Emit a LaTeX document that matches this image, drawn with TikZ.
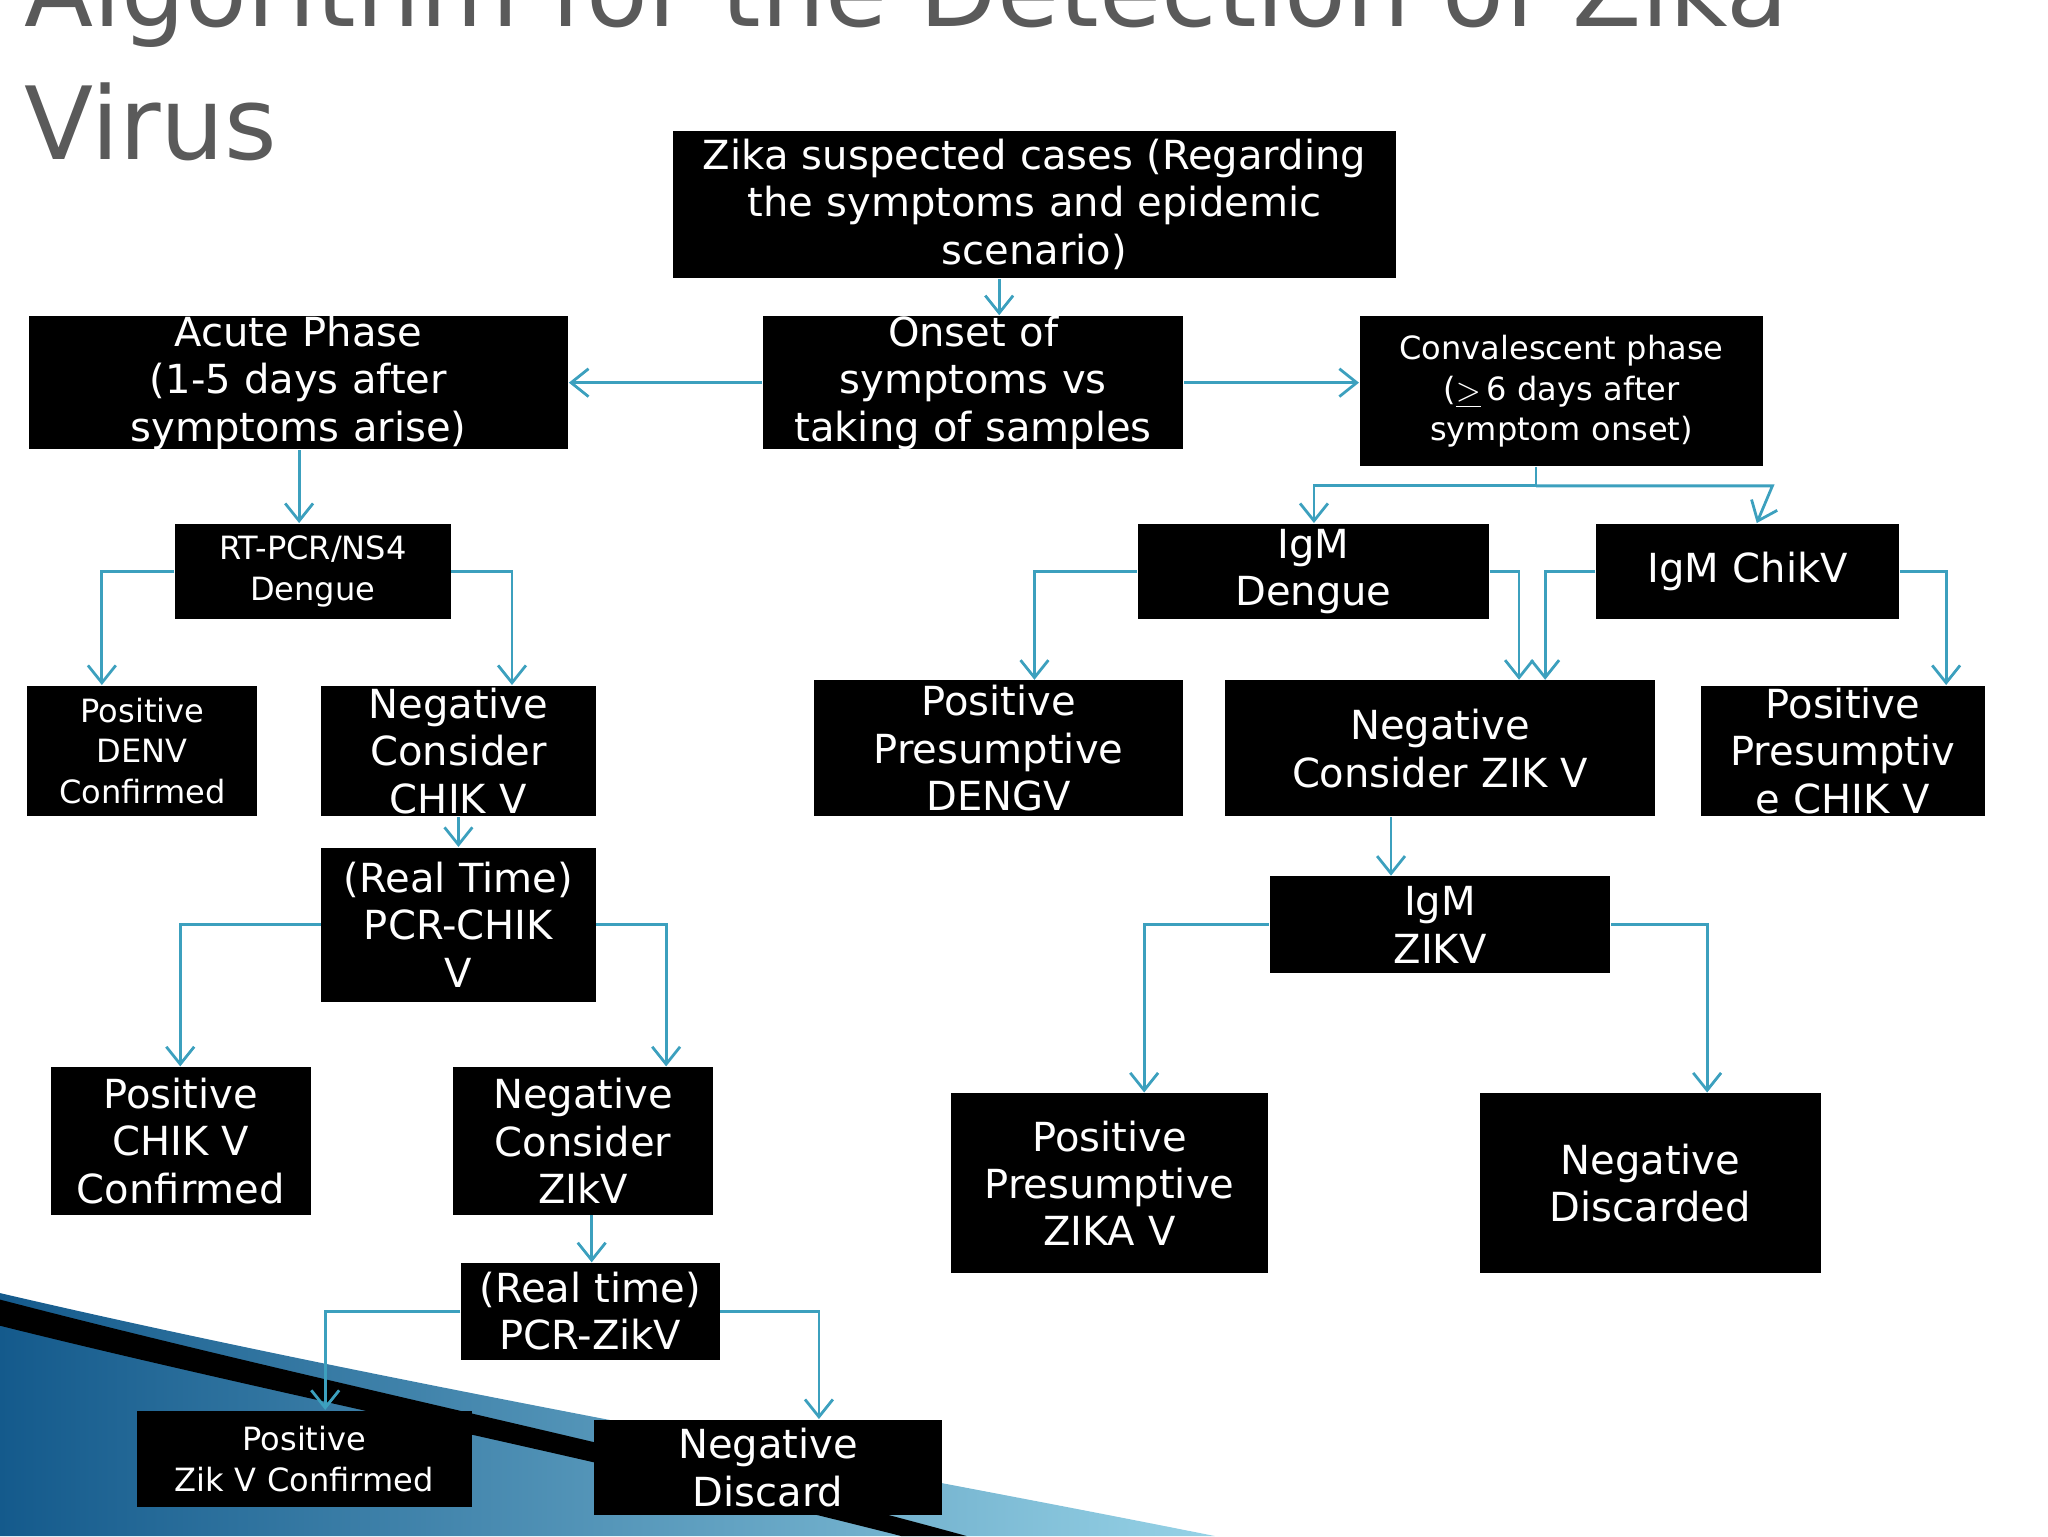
\documentclass[tikz,border=0pt]{standalone}
\usepackage{fontspec}
\setmainfont{DejaVu Sans}
\usetikzlibrary{arrows.meta}
\tikzset{
  box/.style={fill=black,text=white,inner sep=0pt,align=center,font=\fontsize{11.5}{13.6}\selectfont},
  sbox/.style={box,font=\fontsize{9.2}{11.6}\selectfont},
  con/.style={draw={rgb,255:red,60;green,160;blue,190},line width=0.8pt,-{Straight Barb[length=5pt,width=8pt]}},
  ln/.style={draw={rgb,255:red,60;green,160;blue,190},line width=0.8pt},
}
\newcommand\B[7]{\node[#1,minimum width={(#4-#2)*0.375pt},minimum height={(#5-#3)*0.375pt},text width={(#4-#2)*0.375pt-4pt}] (#6) at ({(#2+#4)/2},{(#3+#5)/2}) {#7};}
\begin{document}
\begin{tikzpicture}[x=0.375pt,y=-0.375pt]
\useasboundingbox (0,0) rectangle (1568,1176);
% decoration
\shade[left color={rgb,255:red,20;green,90;blue,140},right color={rgb,255:red,150;green,210;blue,230}] (0,990) .. controls (300,1060) and (650,1120) .. (930,1176) -- (0,1176) -- cycle;
\fill[black] (0,995) .. controls (250,1060) and (500,1110) .. (740,1176) -- (690,1176) .. controls (450,1115) and (200,1065) .. (0,1015) -- cycle;
% title
\node[anchor=base west,text={rgb,255:red,90;green,90;blue,90},font=\fontsize{29}{34}\selectfont,inner sep=0pt] (t1) at (18,20) {Algorithm for the Detection of Zika};
\node[anchor=base west,text={rgb,255:red,90;green,90;blue,90},font=\fontsize{29}{34}\selectfont,inner sep=0pt] (t2) at (18,122) {Virus};
% boxes
\B{box}{515}{100}{1069}{213}{top}{Zika suspected cases (Regarding\\the symptoms and epidemic\\scenario)}
\B{box}{22}{242}{435}{344}{acute}{Acute Phase\\(1-5 days after\\symptoms arise)}
\B{box}{584}{242}{906}{344}{onset}{Onset of\\symptoms vs\\taking of samples}
\B{sbox}{1041}{242}{1350}{357}{conv}{Convalescent phase\\($\underline{>}$\,6 days after\\symptom onset)}
\B{sbox}{134}{401}{345}{474}{rtpcr}{RT-PCR/NS4\\Dengue}
\B{box}{871}{401}{1140}{474}{igmD}{IgM\\Dengue}
\B{box}{1222}{401}{1454}{474}{igmC}{IgM ChikV}
\B{sbox}{21}{525}{197}{625}{posDENV}{Positive\\DENV\\Confirmed}
\B{box}{246}{525}{456}{625}{negCHIK}{Negative\\Consider\\CHIK V}
\B{box}{623}{521}{906}{625}{posDENGV}{Positive\\Presumptive\\DENGV}
\B{box}{938}{521}{1267}{625}{negZIK}{Negative\\Consider ZIK V}
\B{box}{1302}{525}{1520}{625}{posCHIKp}{Positive\\Presumptiv\\e CHIK V}
\B{box}{246}{649}{456}{767}{rtCHIK}{(Real Time)\\PCR-CHIK\\V}
\B{box}{972}{671}{1233}{745}{igmZ}{IgM\\ZIKV}
\B{box}{39}{817}{238}{930}{posCHIK}{Positive\\CHIK V\\Confirmed}
\B{box}{347}{817}{546}{930}{negZIKV}{Negative\\Consider\\ZIkV}
\B{box}{728}{837}{971}{975}{posZIKA}{Positive\\Presumptive\\ZIKA V}
\B{box}{1133}{837}{1394}{975}{negDisc}{Negative\\Discarded}
\B{box}{353}{967}{551}{1041}{rtZik}{(Real time)\\PCR-ZikV}
\B{sbox}{105}{1080}{361}{1154}{posZik}{Positive\\Zik V Confirmed}
\B{box}{455}{1087}{721}{1160}{negDiscard}{Negative\\Discard}
% connectors
\draw[con] (top.south -| 765,0) -- (onset.north -| 765,0);
\draw[con] (onset.west) -- (acute.east);
\draw[con] (onset.east) -- (conv.west |- onset.east);
\draw[con] (acute.south -| 229,0) -- (rtpcr.north -| 229,0);
\draw[con] (rtpcr.west) -| (posDENV.north -| 78,0);
\draw[con] (rtpcr.east) -| (negCHIK.north -| 392,0);
\draw[con] (negCHIK.south -| 351,0) -- (rtCHIK.north -| 351,0);
\draw[con] (rtCHIK.west) -| (posCHIK.north -| 138,0);
\draw[con] (rtCHIK.east) -| (negZIKV.north -| 510,0);
\draw[con] (negZIKV.south -| 453,0) -- (rtZik.north -| 453,0);
\draw[con] (rtZik.west) -| (posZik.north -| 249,0);
\draw[con] (rtZik.east) -| (negDiscard.north -| 627,0);
\coordinate (cj) at (1176,372);
\draw[ln] (conv.south -| cj) -- (cj);
\draw[con] (cj) -| (igmD.north -| 1006,0);
\draw[con] (cj) -- (1357,372) -- (igmC.north -| 1345,0);
\draw[con] (igmD.west) -| (posDENGV.north -| 792,0);
\draw[con] (igmD.east) -| (negZIK.north -| 1163,0);
\draw[con] (igmC.west) -| (negZIK.north -| 1183,0);
\draw[con] (igmC.east) -| (posCHIKp.north -| 1490,0);
\draw[con] (negZIK.south -| 1065,0) -- (igmZ.north -| 1065,0);
\draw[con] (igmZ.west) -| (posZIKA.north -| 876,0);
\draw[con] (igmZ.east) -| (negDisc.north -| 1307,0);
\end{tikzpicture}
\end{document}
